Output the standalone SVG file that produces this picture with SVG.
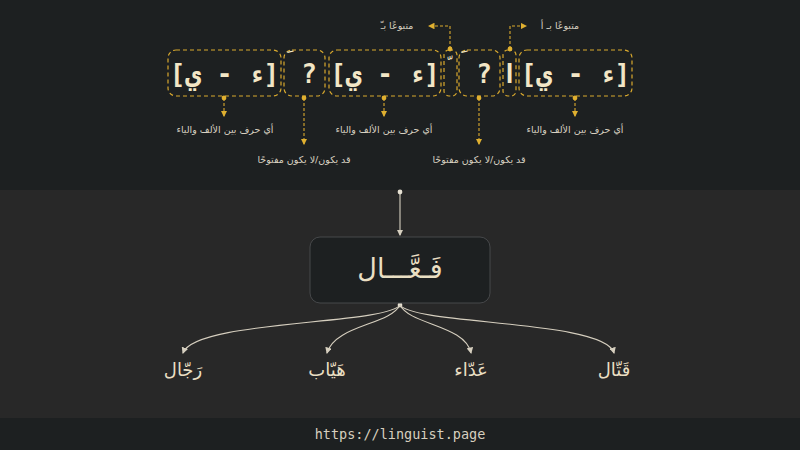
<svg xmlns="http://www.w3.org/2000/svg" width="800" height="450" viewBox="0 0 800 450">
<style>
.box{fill:none;stroke:#d9a92e;stroke-width:1.2;stroke-dasharray:4 3}
.rx{font-family:"DejaVu Sans Mono","Liberation Mono",monospace;font-weight:bold;font-size:26px;fill:#f2e6c6;text-anchor:middle;direction:ltr;unicode-bidi:bidi-override}
.mk{font-family:"DejaVu Sans","Noto Sans",sans-serif;font-size:22px;font-weight:normal;fill:#f2e6c6}
.lbl{font-family:"DejaVu Sans","Noto Sans",sans-serif;font-size:9.5px;fill:#d9d2c2;text-anchor:middle}
.gold{fill:none;stroke:#d9a92e;stroke-width:1.1;stroke-dasharray:3 2}
.grey{fill:none;stroke:#d6cfbf;stroke-width:1.1}
.word{font-family:"DejaVu Sans","Noto Sans",sans-serif;font-size:18px;fill:#eadfc3;text-anchor:middle}
</style>
<defs>
<marker id="ag" viewBox="0 0 6 6" refX="5" refY="3" markerWidth="6" markerHeight="6" orient="auto"><path d="M0,0 L6,3 L0,6 z" fill="#e0b030"/></marker>
<marker id="dg" viewBox="0 0 6 6" refX="3" refY="3" markerWidth="5" markerHeight="5"><circle cx="3" cy="3" r="2.6" fill="#e0b030"/></marker>
<marker id="aw" viewBox="0 0 6 6" refX="5" refY="3" markerWidth="6" markerHeight="6" orient="auto"><path d="M0,0 L6,3 L0,6 z" fill="#d6cfbf"/></marker>
<marker id="dw" viewBox="0 0 6 6" refX="3" refY="3" markerWidth="5" markerHeight="5"><circle cx="3" cy="3" r="2.6" fill="#e6e0d2"/></marker>
</defs>
<rect x="0" y="0" width="800" height="190" fill="#1d2021"/>
<rect x="0" y="190" width="800" height="228" fill="#282828"/>
<rect x="0" y="418" width="800" height="32" fill="#1d2021"/>

<g id="box1"><rect class="box" x="168" y="50" width="113" height="46" rx="8"/><text class="rx" x="224.5" y="83">[ي - ء]</text></g>
<g id="box2"><rect class="box" x="284" y="50" width="41" height="46" rx="8"/><text class="rx" x="309" y="83">?<tspan class="mk" x="290.5" y="66"> َ</tspan></text></g>
<g id="box3"><rect class="box" x="329" y="50" width="112" height="46" rx="8"/><text class="rx" x="385" y="83">[ي - ء]</text></g>
<g id="box4"><rect class="box" x="444" y="50" width="13" height="46" rx="5"/><text class="mk" x="446" y="70" style="font-size:16px"> ّ</text></g>
<g id="box5"><rect class="box" x="459" y="50" width="41" height="46" rx="8"/><text class="rx" x="484" y="83">?<tspan class="mk" x="464.5" y="66"> َ</tspan></text></g>
<g id="box6"><rect class="box" x="503" y="50" width="13" height="46" rx="5"/><text class="rx" x="509.5" y="83">ا</text></g>
<g id="box7"><rect class="box" x="519" y="50" width="113" height="46" rx="8"/><text class="rx" x="575.5" y="83">[ي - ء]</text></g>

<g id="labels">
<text class="lbl" x="225" y="133">أي حرف بين الألف والياء</text>
<text class="lbl" x="304" y="163">قد يكون/لا يكون مفتوحًا</text>
<text class="lbl" x="384" y="133">أي حرف بين الألف والياء</text>
<text class="lbl" x="479" y="163">قد يكون/لا يكون مفتوحًا</text>
<text class="lbl" x="575" y="133">أي حرف بين الألف والياء</text>
<text class="lbl" x="397" y="29">متبوعًا بـّ</text>
<text class="lbl" x="560" y="29">متبوعًا بـ أ</text>
</g>

<g id="connectors">
<path class="gold" d="M224,98 V116" marker-start="url(#dg)" marker-end="url(#ag)"/>
<path class="gold" d="M304,98 V144" marker-start="url(#dg)" marker-end="url(#ag)"/>
<path class="gold" d="M384,98 V116" marker-start="url(#dg)" marker-end="url(#ag)"/>
<path class="gold" d="M479,98 V144" marker-start="url(#dg)" marker-end="url(#ag)"/>
<path class="gold" d="M575,98 V116" marker-start="url(#dg)" marker-end="url(#ag)"/>
<path class="gold" d="M450,49 V26 H429" marker-start="url(#dg)" marker-end="url(#ag)"/>
<path class="gold" d="M510,49 V26 H526" marker-start="url(#dg)" marker-end="url(#ag)"/>
<path class="grey" d="M400,192 V235" marker-start="url(#dw)" marker-end="url(#aw)"/>
<path class="grey" d="M400,305 C385,325 195,320 183,353" marker-start="url(#dw)" marker-end="url(#aw)"/>
<path class="grey" d="M400,305 C390,325 335,325 327,353" marker-end="url(#aw)"/>
<path class="grey" d="M400,305 C410,325 465,325 471,353" marker-end="url(#aw)"/>
<path class="grey" d="M400,305 C415,325 605,320 614,353" marker-end="url(#aw)"/>
</g>

<g id="pattern"><rect x="310" y="237" width="180" height="66" rx="10" fill="#1d2021" stroke="#46484a" stroke-width="1"/><text class="word" x="400" y="278" style="font-size:27px">فَـعَّـــال</text></g>
<g id="w1"><text class="word" x="183" y="376">رَجّال</text></g>
<g id="w2"><text class="word" x="327" y="376">هَيّاب</text></g>
<g id="w3"><text class="word" x="471" y="376">عَدّاء</text></g>
<g id="w4"><text class="word" x="614" y="376">قَتّال</text></g>
<text x="400" y="439" style="font-family:'DejaVu Sans Mono','Liberation Mono',monospace;font-size:13.5px;fill:#d6cfbf;text-anchor:middle">https://linguist.page</text>
</svg>
